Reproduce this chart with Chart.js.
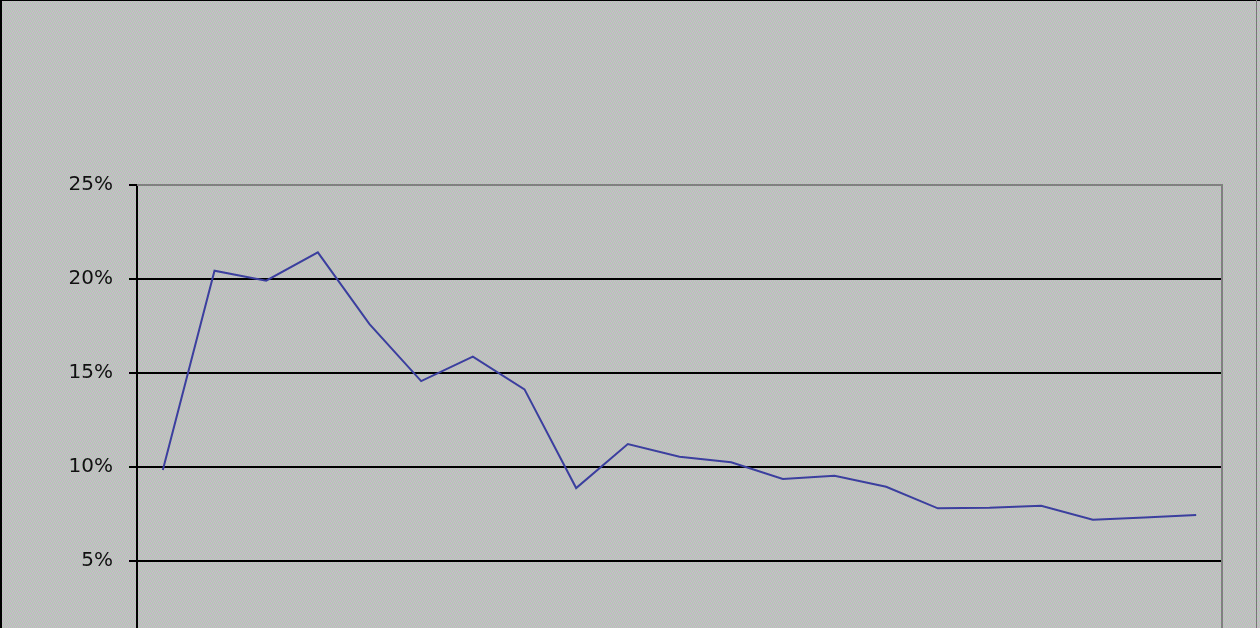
<!DOCTYPE html>
<html>
<head>
<meta charset="utf-8">
<script src="https://cdn.jsdelivr.net/npm/chart.js@4.4.0/dist/chart.umd.min.js"></script>
<style>
  html, body { margin: 0; padding: 0; overflow: hidden; background: #bfb9c0; }
  #wrap { position: relative; width: 1260px; height: 700px; }
</style>
</head>
<body>
<div id="wrap"><canvas id="lineChart"></canvas></div>
<script>
const categories = ['1', '2', '3', '4', '5', '6', '7', '8', '9', '10', '11',
    '12', '13', '14', '15', '16', '17', '18', '19', '20', '21'];
const shareValues = [9.84, 20.44, 19.91, 21.42, 17.6, 14.57, 15.87, 14.13, 8.88, 11.22,
    10.55, 10.25, 9.36, 9.54, 8.95, 7.8, 7.83, 7.94, 7.2, 7.31, 7.45];
const yTicks = [0, 5, 10, 15, 20, 25];

// dithered pink/green background like the original gif
function makePattern() {
    const c = document.createElement('canvas');
    c.width = 4; c.height = 4;
    const g = c.getContext('2d');
    const cols = ['#d2aed2', '#aed0ae', '#c4bcc6', '#b4c8b6'];
    for (let y = 0; y < 4; y++) {
        for (let x = 0; x < 4; x++) {
            g.fillStyle = cols[(x + y * 2 + (y >> 1)) % 4];
            g.fillRect(x, y, 1, 1);
        }
    }
    return g.createPattern(c, 'repeat');
}

const framePlugin = {
    id: 'frame',
    beforeDraw(chart) {
        const ctx = chart.ctx;
        ctx.save();
        ctx.fillStyle = makePattern();
        ctx.fillRect(0, 0, chart.width, chart.height);
        // outer frame
        ctx.fillStyle = '#000';
        ctx.fillRect(0, 0, 2, chart.height);
        ctx.fillRect(0, 0, chart.width, 1);
        ctx.fillStyle = '#777';
        ctx.fillRect(1256, 0, 1, chart.height);
        ctx.restore();
    },
    afterDatasetsDraw(chart) {
        const a = chart.chartArea;
        const ctx = chart.ctx;
        ctx.save();
        ctx.strokeStyle = '#808080';
        ctx.lineWidth = 2;
        ctx.beginPath();
        ctx.moveTo(a.left, a.top);
        ctx.lineTo(a.right, a.top);
        ctx.lineTo(a.right, a.bottom);
        ctx.stroke();
        ctx.restore();
    }
};

document.addEventListener('DOMContentLoaded', function() {
    const ctx = document.getElementById('lineChart');

    new Chart(ctx, {
        type: 'line',
        data: {
            labels: categories,
            datasets: [{
                label: 'Share',
                data: shareValues,
                borderColor: '#3b3f9e',
                borderWidth: 2,
                pointRadius: 0,
                tension: 0,
                fill: false
            }]
        },
        options: {
            responsive: true,
            maintainAspectRatio: false,
            animation: false,
            layout: {
                padding: { top: 185, right: 38, bottom: 45, left: 0 }
            },
            plugins: {
                legend: { display: false },
                tooltip: { enabled: false }
            },
            scales: {
                x: {
                    offset: true,
                    grid: { display: false, drawTicks: false },
                    border: { color: '#000', width: 2 },
                    ticks: { display: false }
                },
                y: {
                    min: 0,
                    max: 25,
                    afterFit: function(scale) { scale.width = 137; },
                    afterBuildTicks: function(scale) {
                        scale.ticks = yTicks.map(v => ({ value: v }));
                    },
                    border: { color: '#000', width: 2 },
                    grid: {
                        color: ctx => ctx.tick && ctx.tick.value === 25 ? '#808080' : '#000',
                        lineWidth: 2,
                        tickLength: 8,
                        tickColor: '#000'
                    },
                    ticks: {
                        padding: 16,
                        color: '#111',
                        font: { family: 'DejaVu Sans', size: 20 },
                        callback: v => v + '%'
                    }
                }
            }
        },
        plugins: [framePlugin]
    });
});
</script>
</body>
</html>
